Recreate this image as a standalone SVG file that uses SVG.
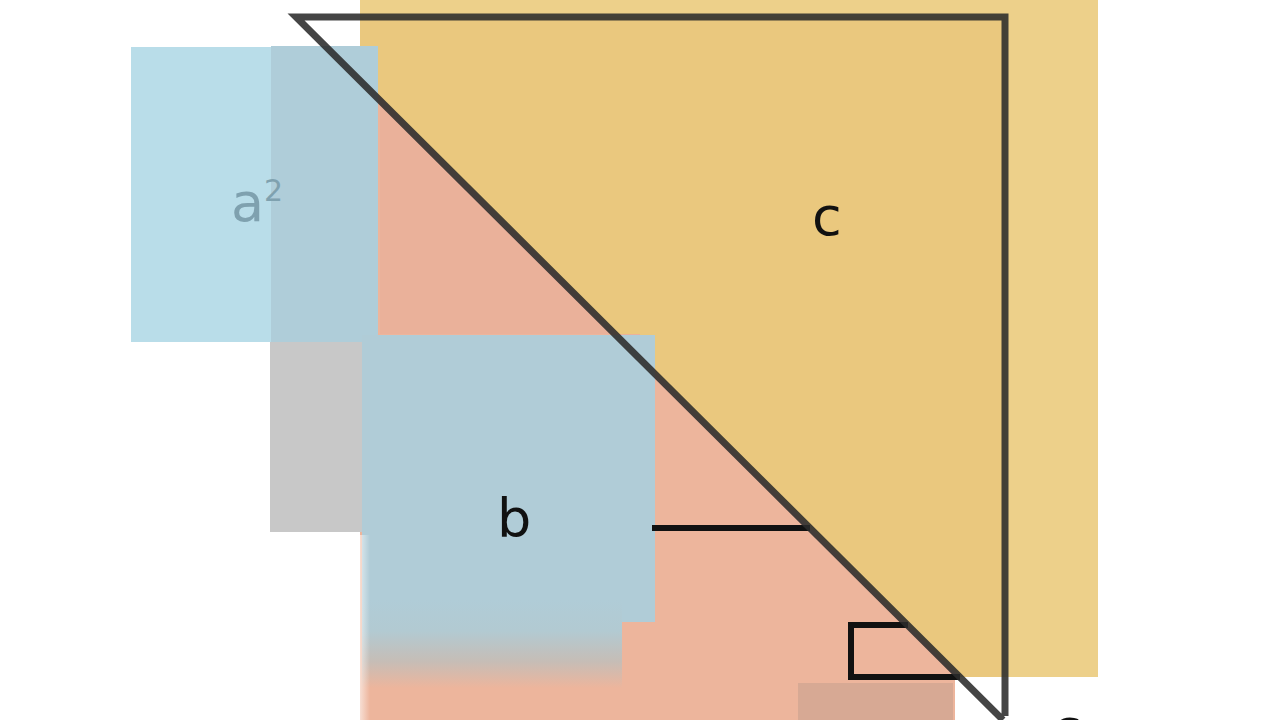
<svg xmlns="http://www.w3.org/2000/svg" width="1280" height="720" viewBox="0 0 1280 720">
  <defs>
    <style>
      .lbl { font-family: "DejaVu Sans", "Liberation Sans", sans-serif; font-size: 54px; }
      .edge { fill: none; stroke: #2b2b2b; stroke-opacity: 0.88; stroke-width: 7; stroke-linejoin: miter; }
      .mark { fill: none; stroke: #111111; stroke-width: 6; }
    </style>
    <linearGradient id="bfade" x1="0" y1="0" x2="0" y2="1">
      <stop offset="0" stop-color="#B0CCD7"/>
      <stop offset="0.35" stop-color="#B2CAD2"/>
      <stop offset="0.7" stop-color="#C6BDB6"/>
      <stop offset="1" stop-color="#EDB59C"/>
    </linearGradient>
    <linearGradient id="lfade" x1="0" y1="0" x2="1" y2="0">
      <stop offset="0" stop-color="#FFFFFF" stop-opacity="1"/>
      <stop offset="1" stop-color="#FFFFFF" stop-opacity="0"/>
    </linearGradient>
  </defs>
  <rect x="0" y="0" width="1280" height="720" fill="#FFFFFF"/>

  <g id="square-c">
    <rect x="360" y="0" width="738" height="677" fill="#EDD08A"/>
    <polygon points="360,17 1005,17 1005,677 960,677 360,77" fill="#EAC87E"/>
  </g>

  <g id="region-salmon">
    <polygon points="360,77 960,677 955,677 955,720 360,720" fill="#EDB59C"/>
    <polygon points="380,97 640,357 640,334 380,334" fill="#EAB19A"/>
    <rect x="798" y="683" width="155" height="37" fill="#D7A994"/>
  </g>

  <g id="square-a">
    <rect x="131" y="47" width="247" height="295" fill="#B9DDE9"/>
    <rect x="271" y="46" width="107" height="296" fill="#AFCDD9"/>
  </g>

  <g id="square-grey">
    <rect x="270" y="342" width="92" height="190" fill="#C8C8C8"/>
  </g>

  <g id="square-b">
    <rect x="362" y="335" width="293" height="287" fill="#B0CCD7"/>
    <rect x="362" y="600" width="260" height="88" fill="url(#bfade)"/>
    <rect x="352" y="535" width="18" height="185" fill="url(#lfade)"/>
  </g>

  <g id="connectors">
    <line class="mark" x1="652" y1="528" x2="810" y2="528" stroke-width="7"/>
    <polyline class="mark" points="908,625 851,625 851,677 960,677"/>
    <polyline class="edge" points="1005,716 1005,17 296,17 1003,720"/>
  </g>

  <g id="labels">
    <text class="lbl" x="231" y="221" fill="#7FA1AF">a<tspan font-size="30" dy="-20">2</tspan></text>
    <text class="lbl" x="497" y="537" fill="#111111">b</text>
    <text class="lbl" x="812" y="235" fill="#111111">c</text>
    <text class="lbl" x="1052" y="747" fill="#111111">c</text>
  </g>
</svg>
